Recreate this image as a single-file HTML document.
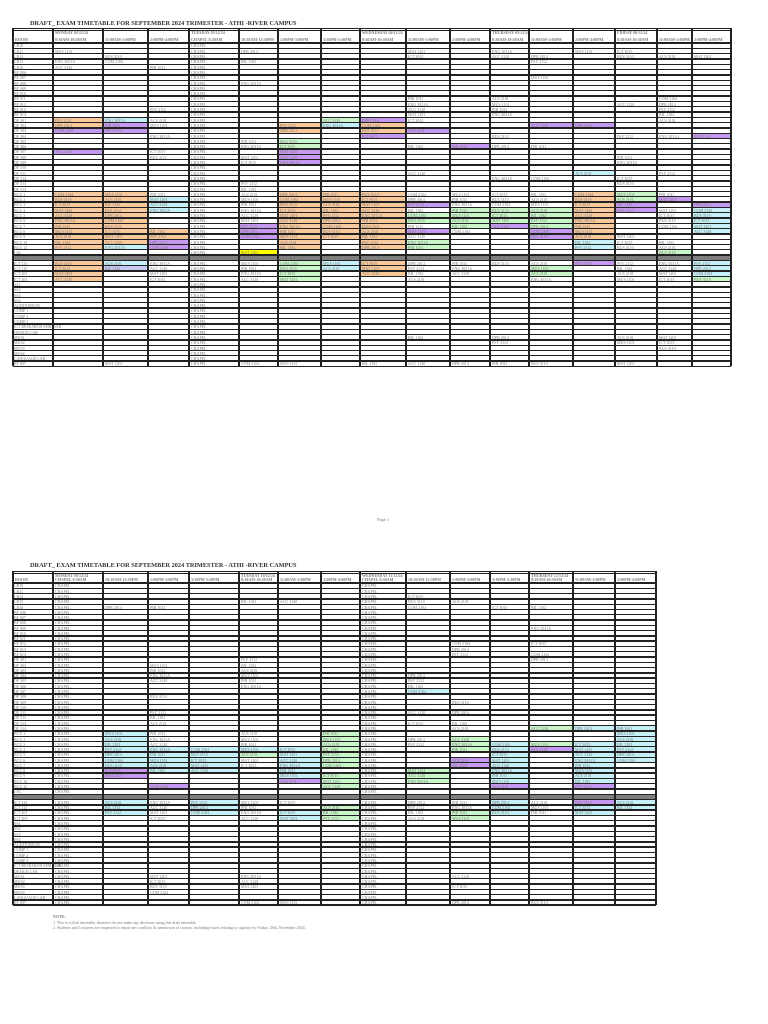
<!DOCTYPE html>
<html><head><meta charset="utf-8"><title>Draft Exam Timetable</title>
<style>
html,body{margin:0;padding:0;background:#fff;}
body{width:768px;height:1024px;position:relative;overflow:hidden;font-family:"Liberation Serif",serif;}
.t{position:absolute;white-space:nowrap;color:#7a7a7a;font-size:4px;line-height:5px;}
.title{position:absolute;font-weight:bold;font-size:6.3px;color:#333;white-space:nowrap;font-family:"Liberation Serif",serif;}
.ln{position:absolute;background:#222;}
.cell{position:absolute;}
</style></head>
<body>
<div class="title" style="left:30px;top:20px">DRAFT_ EXAM TIMETABLE FOR SEPTEMBER 2024 TRIMESTER - ATHI -RIVER CAMPUS</div>
<div class="t" style="left:377px;top:517px;font-size:4.5px">Page 1</div>
<div class="title" style="left:30px;top:562px">DRAFT_ EXAM TIMETABLE FOR SEPTEMBER 2024 TRIMESTER - ATHI -RIVER CAMPUS</div>
<div class="t" style="left:53px;top:914px;font-weight:bold">NOTE:</div>
<div class="t" style="left:53px;top:920px">1. This is a draft timetable, therefore do not make any decisions using this draft timetable</div>
<div class="t" style="left:53px;top:925px">2. Students and Lecturers are requested to report any conflicts &amp; ommission of courses, including issues relating to capacity by Friday, 29th, November 2024.</div>
<div id="root"></div>
<script>
const rooms = ["LR10","LR11","LR12","LR13","LR16","BF 006","BF 007","BF 008","BF 009","BF 010","BF 011","BF 012","BF 013","BF 014",
"DF 301","DF 302","DF 303","DF 304","DF 305","DF 306","DF 307","DF 308","DF 309","DF 310","DF 311","DF 312","DF 313","DF 314",
"BCU 1","BCU 2","BCU 3","BCU 4","BCU 5","BCU 6","BCU 7","BCU 8","BCU 9","BCU 10","BCU 12","LSC","ICT","ICT 113","ICT 115","ICT 201","ICT 203",
"SS1","SS2","SS3","SS4","AUDITORIUM","COMP 1","COMP 2","COMP 3","ICT RESEARCH SEMINAR","DESIGN LAB","MUS1","MUS2","MUS3","MUS4","LANGUAGE LAB","RT 007"];
const p1Cols = [13,53,103,148,189,239,278,321,360,406,450,490,529,573,615,657,692,731];
const p2Cols = [13,53,103,148,189,239,278,321,360,406,450,490,529,573,615,656];
const p1Days = [[1,"MONDAY 02/12/24"],[4,"TUESDAY 03/12/24"],[8,"WEDNESDAY 04/12/24"],[11,"THURSDAY 05/12/24"],[14,"FRIDAY 06/12/24"]];
const p2Days = [[1,"MONDAY 09/12/24"],[5,"TUESDAY 10/12/24"],[8,"WEDNESDAY 11/12/24"],[12,"THURSDAY 12/12/24"]];
const p1Times = ["ROOM","8:30AM-10:30AM","11:00AM-1:00PM","2:00PM-4:00PM","CHAPEL 8:30AM","10:30AM-12:30PM","1:00PM-3:00PM","3:30PM-5:30PM","8:30AM-10:30AM","11:00AM-1:00PM","2:00PM-4:00PM","8:30AM-10:30AM","11:00AM-1:00PM","2:00PM-4:00PM","8:30AM-10:30AM","11:00AM-1:00PM","2:00PM-4:00PM"];
const p2Times = ["ROOM","CHAPEL 8:30AM","10:30AM-12:30PM","1:00PM-3:00PM","3:30PM-5:30PM","8:30AM-10:30AM","11:00AM-1:00PM","2:00PM-4:00PM","CHAPEL 8:30AM","10:30AM-12:30PM","1:00PM-3:00PM","3:30PM-5:30PM","8:30AM-10:30AM","11:00AM-1:00PM","2:00PM-4:00PM"];
const C = {o:"#f9c99c",c:"#c6f0f7",p:"#c699f0",g:"#c9f6c9",l:"#c9c9f6",y:"#ffff00"};
const p1Cells = [[14,1,"o"],[14,2,"c"],[14,7,"g"],[14,8,"p"],[15,1,"o"],[15,2,"p"],[15,6,"o"],[15,7,"c"],[15,8,"o"],[15,12,"p"],[15,13,"p"],
[16,1,"p"],[16,2,"p"],[16,6,"o"],[16,8,"o"],[16,9,"p"],[17,8,"p"],[17,16,"p"],[18,6,"g"],[19,6,"g"],[19,10,"p"],[20,1,"p"],[20,6,"p"],[21,6,"p"],[22,6,"p"],[24,13,"c"],
[28,13,"o"],[28,14,"g"],[29,13,"o"],[29,14,"g"],[29,15,"p"],[30,9,"p"],[30,13,"o"],[30,14,"p"],[30,16,"p"],
[31,10,"g"],[31,11,"g"],[31,12,"g"],[31,13,"o"],[31,14,"p"],[31,16,"c"],[32,9,"g"],[32,10,"g"],[32,11,"g"],[32,12,"g"],[32,13,"o"],[32,16,"c"],
[33,9,"g"],[33,10,"g"],[33,11,"g"],[33,12,"g"],[33,13,"o"],[33,16,"c"],[34,10,"g"],[34,11,"p"],[34,12,"g"],[34,13,"o"],[34,16,"c"],
[35,9,"p"],[35,12,"p"],[35,13,"o"],[35,16,"c"],[36,12,"p"],[36,13,"o"],[37,9,"g"],[37,13,"c"],[38,9,"g"],[38,13,"c"],[39,15,"g"],[39,5,"y"],
[41,1,"o"],[41,2,"c"],[41,6,"g"],[41,7,"c"],[41,8,"o"],[41,13,"p"],[41,16,"c"],[42,1,"o"],[42,2,"l"],[42,6,"g"],[42,7,"c"],[42,8,"o"],[42,12,"g"],[42,16,"c"],
[43,1,"o"],[43,6,"g"],[43,8,"o"],[43,12,"g"],[43,16,"c"],[44,1,"o"],[44,6,"g"],[44,16,"g"],
[34,5,"p"],[35,5,"p"],[36,5,"p"],[35,3,"o"],[36,3,"o"],[37,3,"p"],[38,3,"p"],[38,2,"c"],[35,7,"o"],[36,7,"o"],[35,2,"o"],[36,2,"o"],[37,2,"o"],
[29,3,"c"],[30,3,"c"],[31,3,"c"]];
const p1Orange = [[28,38,[1,6,8]],[28,37,[2]],[28,34,[7]],[28,34,[2]]];
const p2Cells = [[28,2,"c"],[28,7,"g"],[29,2,"c"],[29,7,"g"],[30,2,"c"],[30,7,"g"],[31,2,"c"],[31,3,"c"],[31,4,"c"],[31,5,"c"],[31,6,"c"],[31,7,"g"],
[32,2,"c"],[32,3,"c"],[32,4,"c"],[32,5,"g"],[32,6,"c"],[32,7,"g"],[33,2,"c"],[33,3,"c"],[33,4,"c"],[33,6,"c"],[33,7,"g"],[34,2,"c"],[34,3,"c"],[34,4,"c"],[34,6,"c"],[34,7,"g"],
[35,2,"p"],[35,3,"c"],[35,4,"c"],[35,6,"c"],[36,2,"p"],[36,6,"c"],[36,7,"g"],[37,6,"p"],[37,7,"g"],[38,3,"p"],[38,7,"g"],
[41,2,"c"],[41,4,"c"],[42,2,"c"],[42,4,"c"],[42,7,"g"],[43,2,"c"],[43,4,"c"],[43,6,"c"],[43,7,"g"],[44,6,"c"],[44,7,"g"],
[20,9,"c"],[27,12,"g"],[27,13,"c"],[27,14,"c"],[28,14,"c"],[29,10,"g"],[29,14,"c"],[30,10,"g"],[30,11,"c"],[30,12,"g"],[30,13,"c"],[30,14,"c"],
[31,10,"g"],[31,11,"c"],[31,12,"p"],[31,13,"c"],[31,14,"c"],[32,11,"c"],[32,13,"c"],[32,14,"c"],[33,10,"p"],[33,11,"c"],[33,13,"c"],[33,14,"c"],
[34,10,"p"],[34,11,"c"],[34,13,"c"],[35,9,"g"],[35,11,"c"],[35,13,"c"],[36,9,"g"],[36,11,"c"],[36,13,"c"],[37,9,"g"],[37,11,"c"],[37,13,"c"],[38,11,"p"],[38,13,"p"],
[41,11,"c"],[41,13,"p"],[41,14,"c"],[42,11,"c"],[42,13,"c"],[42,14,"c"],[43,10,"g"],[43,11,"c"],[43,13,"c"],[44,10,"g"]];
const codes = ["BUS 3110","ACS 2101","MAT 1201","PSY 2112","ENG 3031A","COM 2104","MUS 1101","ICT 3015","BIL 1102","ACC 3120","DPR 2014","PHI 1011"];
const p1Text = [[1,1],[3,1],[4,1],[2,2],[3,2],[4,3],[1,5],[3,5],[7,5],[12,3],[14,3],[15,3],[17,3],[18,5],[19,5],[20,3],[21,3],[21,5],[22,5],[26,5],[27,5],[28,3],[28,5],[29,5],[30,5],[31,5],[32,5],[33,5],
[1,9],[2,9],[2,11],[1,11],[1,13],[2,12],[2,14],[2,15],[2,16],[3,12],[1,14],[6,12],[10,9],[11,9],[12,9],[13,9],[14,9],[10,11],[11,11],[12,11],[13,11],[11,14],[10,15],[11,15],[12,15],[13,15],[14,15],
[17,11],[17,14],[17,15],[19,9],[19,11],[19,12],[21,14],[22,14],[24,9],[25,11],[25,12],[25,14],[26,14],[24,15],
[28,9],[28,10],[28,11],[28,12],[28,15],[29,9],[29,10],[29,11],[29,12],[30,10],[30,11],[30,12],[31,9],[31,15],[32,15],[33,15],[34,9],[34,15],[35,10],[36,9],[36,14],[37,14],[38,14],[37,15],[38,15],
[41,5],[41,3],[41,9],[41,10],[41,11],[41,12],[41,14],[41,15],[42,5],[42,3],[42,9],[42,10],[42,14],[42,15],[43,5],[43,3],[43,9],[43,10],[43,14],[43,15],[44,5],[44,3],[44,9],[44,12],[44,14],[44,15],
[55,9],[55,11],[55,14],[55,15],[56,11],[56,14],[56,15],[57,15],[60,2],[60,5],[60,6],[60,8],[60,9],[60,10],[60,11],[60,12],[60,14]];
const p2Text = [[3,5],[3,6],[4,2],[4,3],[14,5],[15,3],[15,5],[16,3],[16,5],[17,3],[17,5],[18,3],[18,5],[19,5],[21,3],[24,3],[25,3],[26,3],[28,3],[28,5],[29,3],[29,5],[30,3],[30,5],[33,5],[34,5],
[2,9],[3,9],[3,10],[4,9],[4,11],[4,12],[8,12],[11,10],[11,12],[12,10],[13,10],[13,12],[14,12],[17,9],[18,9],[19,9],[22,10],[24,9],[24,10],[26,9],[26,10],[27,10],[29,9],[30,9],
[41,3],[41,5],[41,6],[42,3],[42,5],[43,3],[43,5],[44,3],[44,5],[41,9],[41,10],[41,12],[42,9],[42,10],[42,12],[43,9],[43,12],[44,9],
[55,3],[55,5],[56,3],[56,5],[57,3],[57,5],[58,3],[55,10],[57,10],[60,5],[60,6],[60,10],[60,12]];

const root = document.getElementById('root');
function add(cls, x, y, w, h, bg, txt){
  const d = document.createElement('div');
  d.className = cls;
  d.style.left = x + 'px'; d.style.top = y + 'px';
  if (w !== null) d.style.width = w + 'px';
  if (h !== null) d.style.height = h + 'px';
  if (bg) d.style.background = bg;
  if (txt) d.textContent = txt;
  root.appendChild(d);
  return d;
}
function drawTable(pfx, cols, top, headerH, rowH, days, times, cells, texts, chapelCols){
  const n = rooms.length;
  const dataTop = top + headerH;
  const bottom = dataTop + n * rowH;
  const ry = i => dataTop + i * rowH;
  const g = add('cell', cols[0], ry(40), cols[cols.length-1]-cols[0], rowH, '#7f7f7f');
  
  
  cells.forEach(([r, c, k]) => {
    const el = add('cell', cols[c], ry(r), cols[c+1]-cols[c], rowH, C[k]);
    
    
    const t = add('t', cols[c] + 2, ry(r) + 0.4, null, null, null, codes[(r * 7 + c) % codes.length]);
    
    
  });
  texts.forEach(([r, c]) => {
    const t = add('t', cols[c] + 2, ry(r) + 0.4, null, null, null, codes[(r * 5 + c) % codes.length]);
    
    
  });
  rooms.forEach((rm, i) => {
    const t = add('t', cols[0] + 1, ry(i) + 0.4, null, null, null, rm);
    
    
    chapelCols.forEach(c => {
      if (i === 40) return;
      const ch = add('t', cols[c] + 2, ry(i) + 0.4, null, null, null, 'CHAPEL');
      
      
    });
  });
  days.forEach(([c, d]) => {
    const t = add('t', cols[c] + 2, top + 2, null, null, null, d);
    t.style.fontWeight = 'bold';
    
    
  });
  times.forEach((tm, c) => {
    const t = add('t', cols[c] + 2, top + headerH - 6, null, null, null, tm);
    t.style.fontWeight = 'bold';
    
    
  });
  const W = cols[cols.length-1] - cols[0];
  [top, top + 2, dataTop - 1].forEach(y => {
    const l = add('ln', cols[0], y, W, 1.2, null);
    
    
  });
  for (let i = 0; i <= n; i++) {
    const l = add('ln', cols[0], ry(i) - 0.6, W, 1.4, null);
    
    
  }
  cols.forEach((x, j) => {
    const l = add('ln', x - 0.6, top, j === cols.length - 1 ? 1.8 : 1.3, bottom - top, null);
    
    
  });
}
drawTable('page1', p1Cols, 28, 15, 5.3, p1Days, p1Times, p1Cells.concat(
  [].concat(...p1Orange.map(([a,b,cs]) => { const out=[]; for(let r=a;r<=b;r++) cs.forEach(c=>out.push([r,c,"o"])); return out; }))
), p1Text, [4]);
drawTable('page2', p2Cols, 571, 12, 5.28, p2Days, p2Times, p2Cells, p2Text, [1, 8]);
</script>
</body></html>
